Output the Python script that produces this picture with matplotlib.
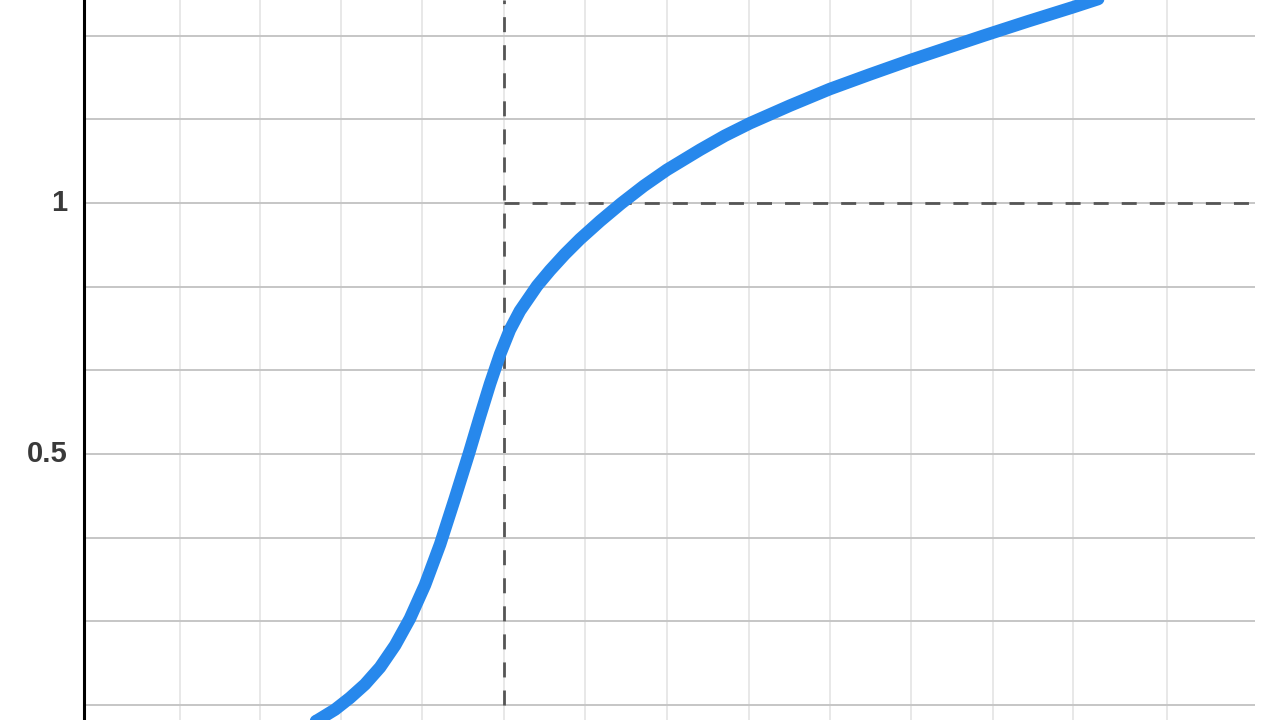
import matplotlib
matplotlib.use("Agg")
import matplotlib.pyplot as plt

# ---- data ----
curve_x = [0.538, 0.557, 0.598, 0.633, 0.669, 0.705, 0.741, 0.776, 0.812, 0.848,
           0.883, 0.917, 0.943, 0.967, 0.991, 1.014, 1.038, 1.079, 1.110, 1.145,
           1.181, 1.229, 1.279, 1.333, 1.388, 1.467, 1.526, 1.586, 1.681, 1.776,
           1.871, 1.969, 2.055, 2.141, 2.248, 2.355, 2.443]
curve_y = [-0.038, -0.030, -0.009, 0.014, 0.041, 0.075, 0.119, 0.172, 0.239, 0.320,
           0.411, 0.502, 0.575, 0.640, 0.699, 0.747, 0.785, 0.835, 0.866, 0.898,
           0.928, 0.964, 0.999, 1.034, 1.066, 1.106, 1.134, 1.159, 1.194, 1.227,
           1.256, 1.285, 1.309, 1.333, 1.362, 1.390, 1.414]

ref_x = 1.0          # dashed vertical guide
ref_y = 1.0          # dashed horizontal guide

xgrid = [0.229, 0.419, 0.612, 0.805, 1.0, 1.193, 1.388, 1.583, 1.776, 1.969,
         2.164, 2.355, 2.579]
ygrid = [0, 1/6, 2/6, 3/6, 4/6, 5/6, 1.0, 7/6, 8/6]
ytick_vals = [0.5, 1.0]
ytick_labels = ["0.5", "1"]

grid_right = 2.788
xlim = (-0.2, 2.848)
ylim = (-0.0299, 1.4044)

# ---- figure ----
fig = plt.figure(figsize=(12.8, 7.2), dpi=100)
ax = fig.add_axes([0, 0, 1, 1])
ax.set_xlim(*xlim)
ax.set_ylim(*ylim)
ax.axis("off")

# grid
ax.vlines(xgrid, ylim[0], ylim[1], colors="#e4e4e4", linewidth=1.2, zorder=1)
ax.hlines(ygrid, 0, grid_right, colors="#c6c6c6", linewidth=1.4, zorder=1)

# y axis
ax.axvline(0, color="black", linewidth=2.2, zorder=3)

# dashed guides
dash = (0, (5.4, 4.7))
ax.plot([ref_x, ref_x], [0, ylim[1]], color="#555555", linewidth=2.0,
        linestyle=dash, zorder=2)
ax.plot([ref_x, grid_right], [ref_y, ref_y], color="#555555", linewidth=2.0,
        linestyle=dash, zorder=2)

# curve
ax.plot(curve_x, curve_y, color="#2788ec", linewidth=9, solid_capstyle="round",
        solid_joinstyle="round", zorder=4)

# tick labels
for v, lab in zip(ytick_vals, ytick_labels):
    ax.text(-0.039, v, lab, ha="right", va="center", fontsize=21,
            fontweight="bold", color="#3a3a3a", family="Liberation Sans")

fig.savefig("out.png", dpi=100)
